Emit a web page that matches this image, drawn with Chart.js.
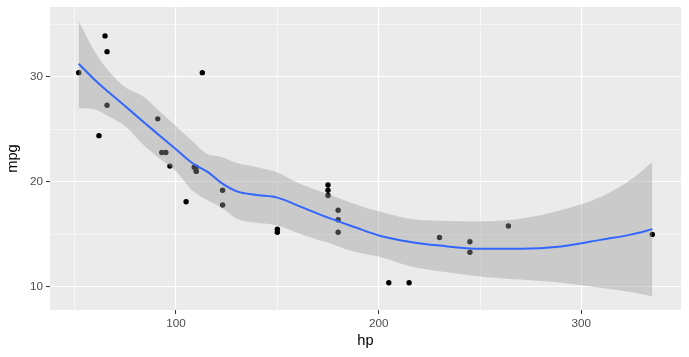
<!DOCTYPE html>
<html><head><meta charset="utf-8">
<script src="https://cdn.jsdelivr.net/npm/chart.js@4.4.1/dist/chart.umd.min.js"></script>
<style>html,body{margin:0;padding:0;background:#fff}canvas{display:block}</style>
</head><body>
<canvas id="c" width="689" height="357"></canvas>
<script>
// mtcars: horsepower vs miles per gallon
const hp  = [110,110,93,110,175,105,245,62,95,123,123,180,180,180,205,215,230,66,52,65,97,150,150,245,175,66,91,113,264,175,335,109];
const mpg = [21.0,21.0,22.8,21.4,18.7,18.1,14.3,24.4,22.8,19.2,17.8,16.4,17.3,15.2,10.4,10.4,14.7,32.4,30.4,33.9,21.5,15.5,15.2,13.3,19.2,27.3,26.0,30.4,15.8,19.7,15.0,21.4];

// loess smooth
const smoothHp    = [52,60,67,75,84,92,100,108,116,122,130,140,150,162,175,188,200,215,230,250,270,290,310,325,335];
const smoothFit   = [31.25,29.7,28.5,27.2,25.7,24.4,23.1,21.8,20.9,19.95,19.1,18.75,18.5,17.6,16.6,15.7,14.9,14.3,13.93,13.62,13.62,13.85,14.5,15.0,15.5];
const smoothUpper = [35.3,32.4,30.5,29.0,28.1,26.7,25.3,23.9,22.6,22.4,21.8,21.4,20.9,19.75,18.85,17.9,17.2,16.5,16.3,16.25,16.5,17.3,18.6,20.3,21.9];
const smoothLower = [27.0,26.9,26.2,25.3,23.5,22.2,21.0,19.2,18.2,17.6,16.5,16.1,15.85,15.0,14.2,13.35,12.9,12.0,11.5,11.0,10.7,10.4,9.9,9.5,9.1];

const xTicks = [50,100,150,200,250,300];
const xMajor = [100,200,300];
const yTicks = [10,15,20,25,30,35];
const yMajor = [10,20,30];

const pts = (xs, ys) => xs.map((x, i) => ({x: x, y: ys[i]}));
const FONT = '"Liberation Sans", Arial, sans-serif';

const panelBg = {
  id: 'panelBg',
  beforeDraw(chart) {
    const {ctx, chartArea: a} = chart;
    ctx.save();
    ctx.fillStyle = '#EBEBEB';
    ctx.fillRect(a.left, a.top, a.right - a.left, a.bottom - a.top);
    ctx.restore();
  }
};

function gridOpts(major) {
  return {
    color: '#FFFFFF',
    lineWidth: c => (c.tick && major.includes(c.tick.value)) ? 1.1 : 0.55,
    drawTicks: true,
    tickLength: 4,
    tickWidth: 1,
    tickColor: c => (c.tick && major.includes(c.tick.value)) ? '#333333' : 'rgba(0,0,0,0)'
  };
}

new Chart(document.getElementById('c'), {
  type: 'scatter',
  data: {
    datasets: [
      { // fit line (top)
        data: pts(smoothHp, smoothFit),
        showLine: true, borderColor: '#3366FF', borderWidth: 2,
        pointRadius: 0, cubicInterpolationMode: 'monotone', fill: false
      },
      { // ribbon upper, filled to lower
        data: pts(smoothHp, smoothUpper),
        showLine: true, borderWidth: 0, borderColor: 'rgba(0,0,0,0)',
        backgroundColor: 'rgba(153,153,153,0.4)',
        pointRadius: 0, cubicInterpolationMode: 'monotone', fill: '+1'
      },
      { // ribbon lower
        data: pts(smoothHp, smoothLower),
        showLine: true, borderWidth: 0, borderColor: 'rgba(0,0,0,0)',
        pointRadius: 0, cubicInterpolationMode: 'monotone', fill: false
      },
      { // points (bottom)
        data: pts(hp, mpg),
        pointRadius: 2.7, pointBackgroundColor: '#000000',
        pointBorderWidth: 0, borderColor: '#000000', showLine: false
      }
    ]
  },
  options: {
    responsive: false,
    animation: false,
    events: [],
    layout: { padding: { left: 0, right: 8, top: 7, bottom: 0 } },
    plugins: { legend: { display: false }, tooltip: { enabled: false } },
    scales: {
      x: {
        type: 'linear', min: 37.85, max: 349.15,
        afterBuildTicks: s => { s.ticks = xTicks.map(v => ({value: v})); },
        afterFit: s => { s.height = 47; s.paddingLeft = 0; s.paddingRight = 0; },
        border: { display: false },
        grid: gridOpts(xMajor),
        ticks: {
          autoSkip: false, maxRotation: 0, padding: 3,
          color: '#4D4D4D', font: { family: FONT, size: 11.7 },
          callback: v => xMajor.includes(v) ? String(v) : ''
        },
        title: {
          display: true, text: 'hp', color: '#000000',
          font: { family: FONT, size: 14.67 }, padding: { top: 0, bottom: 7 }
        }
      },
      y: {
        type: 'linear', min: 7.8, max: 36.65,
        afterBuildTicks: s => { s.ticks = yTicks.map(v => ({value: v})); },
        afterFit: s => { s.width = 50; s.paddingTop = 0; s.paddingBottom = 0; },
        border: { display: false },
        grid: gridOpts(yMajor),
        ticks: {
          autoSkip: false, padding: 3,
          color: '#4D4D4D', font: { family: FONT, size: 11.7 },
          callback: v => yMajor.includes(v) ? String(v) : ''
        },
        title: {
          display: true, text: 'mpg', color: '#000000',
          font: { family: FONT, size: 14.67 }, padding: { top: 4, bottom: 0 }
        }
      }
    }
  },
  plugins: [panelBg]
});
</script>
</body></html>
